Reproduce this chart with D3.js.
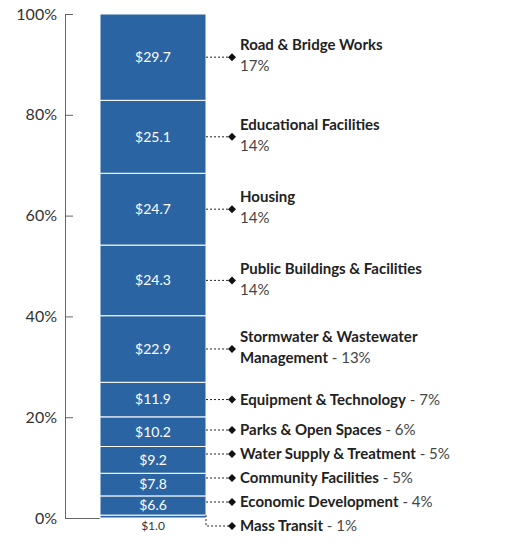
<!DOCTYPE html>
<html><head><meta charset="utf-8">
<script src="https://cdn.jsdelivr.net/npm/d3@7"></script>
<style>body{margin:0;background:#fff}text{font-family:Lato,"Open Sans",sans-serif}</style>
</head><body><svg id="c" width="512" height="554"></svg>
<script>
const categories=["Mass Transit","Economic Development","Community Facilities","Water Supply & Treatment","Parks & Open Spaces","Equipment & Technology","Stormwater & Wastewater Management","Public Buildings & Facilities","Housing","Educational Facilities","Road & Bridge Works"];
const values=[1.0,6.6,7.8,9.2,10.2,11.9,22.9,24.3,24.7,25.1,29.7];
const percents=["1%","4%","5%","5%","6%","7%","13%","14%","14%","14%","17%"];
const ticks=[0,20,40,60,80,100];

const svg=d3.select("#c");
const total=d3.sum(values);
const y=d3.scaleLinear().domain([0,100]).range([518,14]);
const x0=100,x1=206;
let cum=0;
const segs=values.map((v,i)=>{const s={i,v,lo:cum/total*100,hi:(cum+v)/total*100};cum+=v;return s;});

// axis
const ax=svg.append("g").attr("transform","translate(65,0)").call(d3.axisRight(y).tickValues(ticks).tickSize(8).tickFormat(""));
ax.select(".domain").attr("stroke","#666");
ax.selectAll(".tick line").attr("stroke","#666");
svg.selectAll(".tl").data(ticks).join("text").attr("x",57).attr("y",d=>y(d)).attr("dy","0.35em")
 .attr("text-anchor","end").attr("font-size",16).attr("fill","#333").text(d=>d+"%");
svg.append("line").attr("x1",65).attr("x2",x0).attr("y1",518.5).attr("y2",518.5).attr("stroke","#666");

// bars
svg.selectAll(".seg").data(segs).join("rect").attr("x",x0).attr("width",x1-x0)
 .attr("y",d=>y(d.hi)).attr("height",d=>y(d.lo)-y(d.hi)).attr("fill","#2b64a3").attr("stroke","#fff").attr("stroke-width",1);
svg.selectAll(".bl").data(segs).join("text").attr("x",(x0+x1)/2)
 .attr("y",d=>d.i===0?526:y((d.lo+d.hi)/2)).attr("dy","0.35em").attr("text-anchor","middle")
 .attr("font-size",d=>d.i===0?12:14).attr("fill",d=>d.i===0?"#333":"#fff").text(d=>"$"+d.v.toFixed(1));

// label positions: midpoints, then separated from bottom
const ly=segs.map(d=>y((d.lo+d.hi)/2));
ly[0]=526;
for(let i=1;i<ly.length;i++) ly[i]=Math.min(ly[i],ly[i-1]-24);

const twoLine={10:["Road & Bridge Works","17%"],9:["Educational Facilities","14%"],8:["Housing","14%"],7:["Public Buildings & Facilities","14%"]};
segs.forEach(d=>{
  const yy=ly[d.i];
  const g=svg.append("g");
  if(d.i===0){
    g.append("path").attr("d",`M${x1},${y(d.hi)}V${yy}H230`).attr("fill","none").attr("stroke","#222").attr("stroke-dasharray","2,2");
  } else {
    g.append("line").attr("x1",x1).attr("x2",230).attr("y1",yy).attr("y2",yy).attr("stroke","#222").attr("stroke-dasharray","2,2");
  }
  g.append("path").attr("d",`M228,${yy}l4,-4l4,4l-4,4z`).attr("fill","#111");
  const t=g.append("text").attr("x",240).attr("font-size",15).attr("fill","#222");
  if(twoLine[d.i]){
    t.append("tspan").attr("x",240).attr("y",yy-12).attr("dy","0.35em").attr("font-weight","bold").text(twoLine[d.i][0]);
    t.append("tspan").attr("x",240).attr("y",yy+9).attr("dy","0.35em").attr("fill","#444").text(twoLine[d.i][1]);
  } else if(d.i===6){
    t.append("tspan").attr("x",240).attr("y",yy-12).attr("dy","0.35em").attr("font-weight","bold").text("Stormwater & Wastewater");
    t.append("tspan").attr("x",240).attr("y",yy+9).attr("dy","0.35em").attr("font-weight","bold").text("Management");
    t.append("tspan").attr("fill","#444").text(" - "+percents[d.i]);
  } else {
    t.append("tspan").attr("y",yy).attr("dy","0.35em").attr("font-weight","bold").text(categories[d.i]);
    t.append("tspan").attr("fill","#444").text((d.i===5?"  - ":" - ")+percents[d.i]);
  }
});
</script></body></html>
